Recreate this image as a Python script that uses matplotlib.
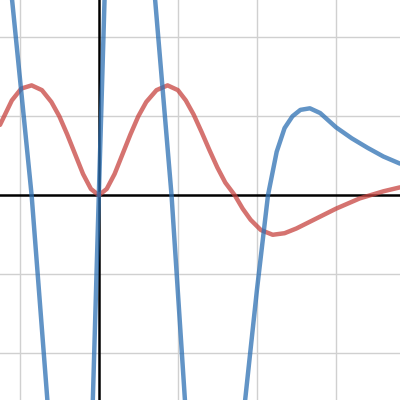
import matplotlib.pyplot as plt

# values (grid unit = 1)
red_x = [-1.25, -1.1, -0.98, -0.85, -0.72, -0.6, -0.5, -0.4, -0.3, -0.2, -0.1, 0.0,
         0.1, 0.2, 0.3, 0.4, 0.5, 0.6, 0.73, 0.87, 1.0, 1.1, 1.2, 1.3, 1.4, 1.5, 1.6,
         1.72, 1.82, 1.92, 2.05, 2.2, 2.35, 2.5, 2.7, 3.0, 3.3, 3.6, 3.81]
red_y = [0.89, 1.2, 1.35, 1.39, 1.33, 1.18, 1.0, 0.77, 0.52, 0.27, 0.08, 0.0,
         0.08, 0.27, 0.52, 0.77, 1.0, 1.18, 1.33, 1.39, 1.33, 1.2, 1.02, 0.8, 0.57, 0.35, 0.16,
         0.0, -0.17, -0.31, -0.44, -0.5, -0.48, -0.42, -0.32, -0.17, -0.04, 0.05, 0.1]

blue_x = [-1.3, -1.1, -0.85, -0.65, -0.4, -0.15, -0.076, 0.0, 0.076, 0.3, 0.5, 0.71,
          0.92, 1.09, 1.45, 1.85, 2.0, 2.14, 2.25, 2.35, 2.45, 2.55, 2.67, 2.8, 2.9,
          3.0, 3.2, 3.4, 3.6, 3.81]
blue_y = [5.0, 2.5, 0.0, -2.6, -5.0, -3.5, -2.6, 0.0, 2.6, 5.0, 4.5, 2.5,
          0.0, -2.6, -4.5, -2.6, -1.2, 0.0, 0.55, 0.85, 1.0, 1.08, 1.1, 1.04, 0.95,
          0.86, 0.72, 0.6, 0.49, 0.4]

fig = plt.figure(figsize=(4, 4), dpi=100)
ax = fig.add_axes([0, 0, 1, 1])
ax.set_xlim(-1.25, 3.81)
ax.set_ylim(-2.59, 2.47)

for v in [-1, 1, 2, 3]:
    ax.axvline(v, color="#d0d0d0", lw=1, zorder=0)
for v in [-2, -1, 1, 2]:
    ax.axhline(v, color="#d0d0d0", lw=1, zorder=0)
ax.axvline(0, color="black", lw=1.8, zorder=1)
ax.axhline(0, color="black", lw=1.8, zorder=1)

ax.plot(red_x, red_y, color="#c74440", alpha=0.75, lw=3.2, solid_capstyle="round", zorder=2)
ax.plot(blue_x, blue_y, color="#2d70b3", alpha=0.75, lw=3.2, solid_capstyle="round", zorder=3)

ax.set_xticks([])
ax.set_yticks([])
for s in ax.spines.values():
    s.set_visible(False)

fig.savefig("out.png", dpi=100)
